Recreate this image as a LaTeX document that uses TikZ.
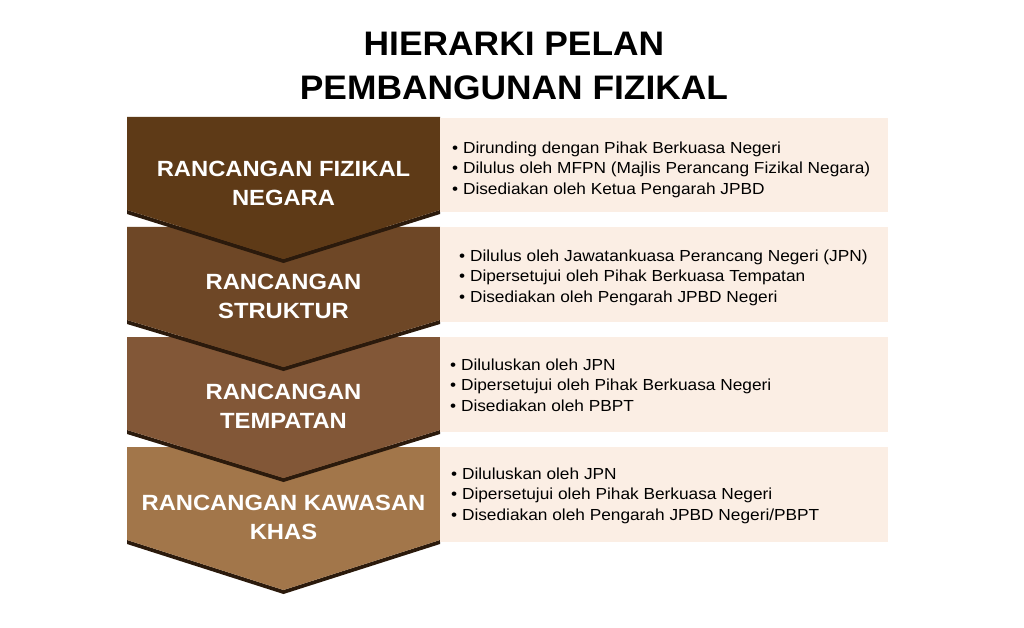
\documentclass[tikz,border=0pt]{standalone}
\usepackage{fontspec}
\setmainfont{Liberation Sans}
\newfontfamily\widefont[FakeStretch=1.08]{Liberation Sans}
\newfontfamily\titlefont[FakeStretch=1.04]{Liberation Sans}
\usepackage{tikz}
\usetikzlibrary{calc}

\definecolor{levelA}{HTML}{5E3A17}
\definecolor{levelB}{HTML}{6E4726}
\definecolor{levelC}{HTML}{825737}
\definecolor{levelD}{HTML}{A2764A}
\definecolor{edgedark}{HTML}{2B1A0C}
\definecolor{peach}{HTML}{FBEEE4}

\tikzset{
	lvltext/.style={text=white, font=\widefont\bfseries\fontsize{22}{29}\selectfont, align=center, inner sep=0pt},
	infotext/.style={font=\widefont\fontsize{16}{20.5}\selectfont, align=left, anchor=west, inner sep=0pt},
	titletext/.style={font=\titlefont\bfseries\fontsize{34}{44}\selectfont, align=center, inner sep=0pt}
}

\begin{document}
\begin{tikzpicture}[x=1pt, y=-1pt]
				\useasboundingbox (0, 0) rectangle (1024, 628);
				\fill[white] (0, 0) rectangle (1024, 628);
				
				\node[titletext] (T) at (514, 66) {HIERARKI PELAN\\PEMBANGUNAN FIZIKAL};
				
				% chevrons, lowest first so the points lie on top
				\fill[edgedark] (127, 540) -- (283.5, 590) -- (440, 540) -- (440, 544) -- (283.5, 594) -- (127, 544) -- cycle;
				\fill[levelD] (127, 447) -- (440, 447) -- (440, 540) -- (283.5, 590) -- (127, 540) -- cycle;
				\fill[edgedark] (127, 430) -- (283.5, 478) -- (440, 430) -- (440, 434) -- (283.5, 482) -- (127, 434) -- cycle;
				\fill[levelC] (127, 337) -- (440, 337) -- (440, 430) -- (283.5, 478) -- (127, 430) -- cycle;
				\fill[edgedark] (127, 320) -- (283.5, 367) -- (440, 320) -- (440, 324) -- (283.5, 371) -- (127, 324) -- cycle;
				\fill[levelB] (127, 227) -- (440, 227) -- (440, 320) -- (283.5, 367) -- (127, 320) -- cycle;
				\fill[edgedark] (127, 210) -- (283.5, 259) -- (440, 210) -- (440, 214) -- (283.5, 263) -- (127, 214) -- cycle;
				\fill[levelA] (127, 117) -- (440, 117) -- (440, 210) -- (283.5, 259) -- (127, 210) -- cycle;
				
				\node[lvltext] (RFN) at (283.5, 183) {RANCANGAN FIZIKAL\\NEGARA};
				\node[lvltext] (RS) at (283.5, 296) {RANCANGAN\\STRUKTUR};
				\node[lvltext] (RT) at (283.5, 406) {RANCANGAN\\TEMPATAN};
				\node[lvltext] (RKK) at (283.5, 517) {RANCANGAN KAWASAN\\KHAS};
				
				% boxes on the right
				\fill[peach] (440, 118) rectangle (888, 212);
				\fill[peach] (440, 227) rectangle (888, 322);
				\fill[peach] (440, 337) rectangle (888, 432);
				\fill[peach] (440, 447) rectangle (888, 542);
				
				\node[infotext] (iRFN) at (452, 169.5) {• Dirunding dengan Pihak Berkuasa Negeri\\• Dilulus oleh MFPN (Majlis Perancang Fizikal Negara)\\• Disediakan oleh Ketua Pengarah JPBD};
				\node[infotext] (iRS) at (459, 277.5) {• Dilulus oleh Jawatankuasa Perancang Negeri (JPN)\\• Dipersetujui oleh Pihak Berkuasa Tempatan\\• Disediakan oleh Pengarah JPBD Negeri};
				\node[infotext] (iRT) at (450, 385) {• Diluluskan oleh JPN\\• Dipersetujui oleh Pihak Berkuasa Negeri\\• Disediakan oleh PBPT};
				\node[infotext] (iRKK) at (451, 495.5) {• Diluluskan oleh JPN\\• Dipersetujui oleh Pihak Berkuasa Negeri\\• Disediakan oleh Pengarah JPBD Negeri/PBPT};
			\end{tikzpicture}
\end{document}
